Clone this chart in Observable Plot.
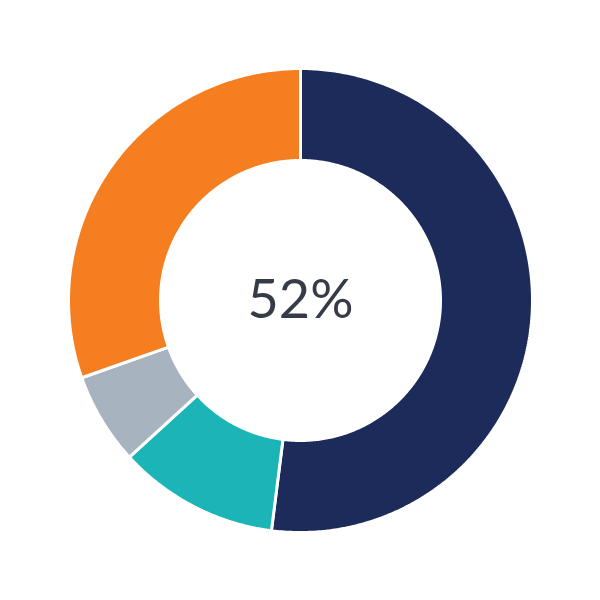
<!DOCTYPE html>
<html>
<head>
<meta charset="utf-8">
<script src="https://cdn.jsdelivr.net/npm/d3@7"></script>
<script src="https://cdn.jsdelivr.net/npm/@observablehq/plot@0.6"></script>
<style>
  html, body { margin: 0; padding: 0; background: #fff; }
</style>
</head>
<body>
<div id="chart"></div>
<script>
// Data
const categories = ["A", "B", "C", "D"];
const values = [52, 11.2, 6.4, 30.4];
const colors = ["#1c2b5a", "#1bb4b7", "#a8b3c0", "#f47e20"];
const centerLabel = "52%";

// Geometry (pixel units in a centered coordinate system)
const W = 600, H = 600;
const outerR = 232, innerR = 140;

const pie = d3.pie().sort(null).value(d => d.value);
const arcs = pie(categories.map((c, i) => ({category: c, value: values[i]})));

// Build polygon rings for each slice from the pie angles
const pts = [];
for (const a of arcs) {
  const n = Math.max(8, Math.ceil((a.endAngle - a.startAngle) / 0.01));
  const ring = [];
  for (let k = 0; k <= n; k++) {
    const t = a.startAngle + (a.endAngle - a.startAngle) * k / n;
    ring.push([outerR * Math.sin(t), outerR * Math.cos(t)]);
  }
  for (let k = n; k >= 0; k--) {
    const t = a.startAngle + (a.endAngle - a.startAngle) * k / n;
    ring.push([innerR * Math.sin(t), innerR * Math.cos(t)]);
  }
  ring.push(ring[0]);
  for (const [x, y] of ring) pts.push({category: a.data.category, x, y});
}

const chart = Plot.plot({
  width: W,
  height: H,
  margin: 0,
  x: {domain: [-W / 2, W / 2], axis: null},
  y: {domain: [-H / 2, H / 2], axis: null},
  color: {domain: categories, range: colors},
  marks: [
    Plot.line(pts, {
      x: "x", y: "y", z: "category",
      fill: "category",
      stroke: "#ffffff",
      strokeWidth: 3,
      strokeLinejoin: "miter",
      curve: "linear"
    }),
    Plot.text([centerLabel], {
      x: () => 0, y: () => 0,
      text: d => d,
      fontSize: 54,
      fontFamily: "Lato",
      fontWeight: 400,
      fill: "#363c47",
      textAnchor: "middle",
      dy: 0
    })
  ]
});
document.getElementById("chart").appendChild(chart);
</script>
</body>
</html>
